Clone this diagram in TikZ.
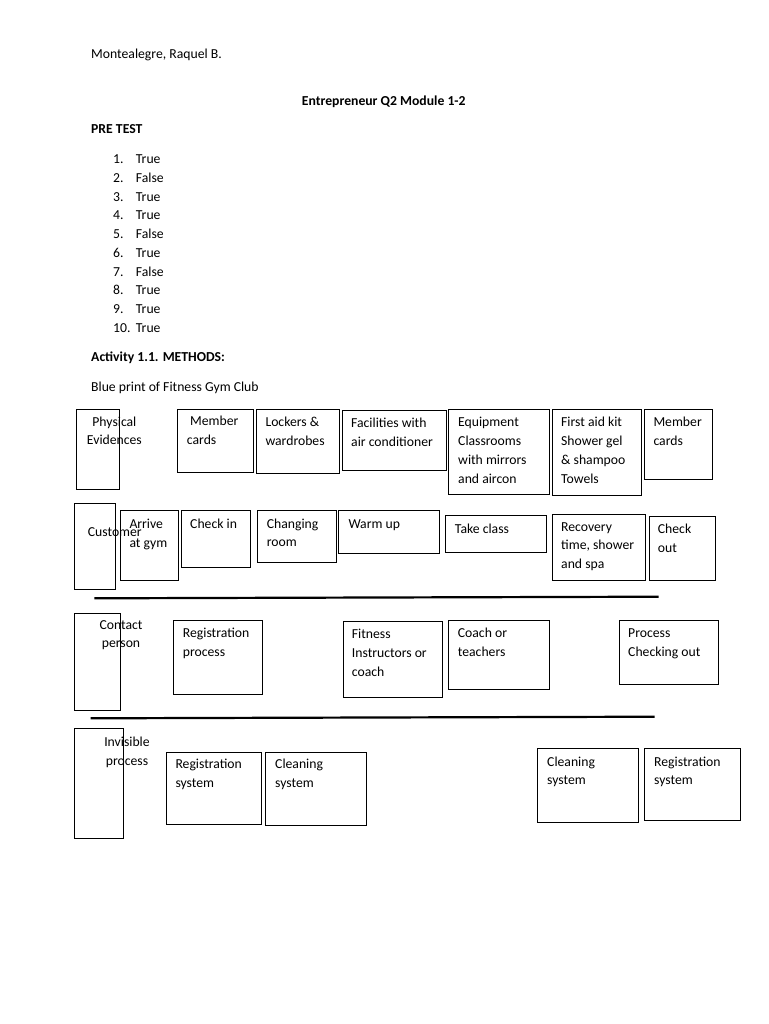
\documentclass[tikz,border=0pt]{standalone}
\usepackage{fontspec}
\setmainfont{Carlito}
\usepackage{tikz}

% box from its four edges: name, left, top, right, bottom
\newcommand{\blk}[5]{\node[box, minimum width={(#4-#2)*1pt}, minimum height={(#5-#3)*1pt}] (#1) at (#2,#3) {};}

\begin{document}
\begin{tikzpicture}[x=1pt,y=-1pt]
        \tikzset{box/.style = {draw, line width=0.9pt, anchor=north west, inner sep=0pt}}
        \tikzset{txt/.style = {anchor=base west, inner sep=0pt, align=left, font=\fontsize{13.7}{18.8}\selectfont}}
        \tikzset{lbl/.style = {anchor=base, inner sep=0pt, align=center, font=\fontsize{13.7}{18.8}\selectfont}}
        \tikzset{hd/.style = {txt, font=\fontsize{13.7}{18.8}\selectfont\bfseries}}
        \tikzset{ln2/.style = {yshift=-18.8pt}}
        \tikzset{ln3/.style = {yshift=-37.6pt}}
        \tikzset{ln4/.style = {yshift=-56.4pt}}
        \tikzset{rule/.style = {line width=2.2pt}}
        \useasboundingbox (0,0) rectangle (768,1024);

        % header
        \node[txt] (name) at (91,58.3) {Montealegre, Raquel B.};
        \node[hd] (title) at (301.7,105.7) {Entrepreneur Q2 Module 1-2};
        \node[hd] (pre) at (91,134) {PRE TEST};
        \foreach \n/\a in {1/True,2/False,3/True,4/True,5/False,6/True,7/False,8/True,9/True,10/True}{
          \node[txt] (num\n) at (113,{163.7+18.74*(\n-1)}) {\n.};
          \node[txt] (ans\n) at (135.7,{163.7+18.74*(\n-1)}) {\a};
        }
        \node[hd] (act) at (91,361.7) {Activity 1.1. METHODS:};
        \node[txt] (blue) at (91,391) {Blue print of Fitness Gym Club};

        % physical evidences
        \blk{pe}{75.5}{409}{119}{489}
        \blk{mem}{177}{409}{252.7}{471.7}
        \blk{lock}{256.3}{409}{338.7}{473}
        \blk{fac}{341.7}{410}{445.7}{470}
        \blk{equ}{448.3}{409}{548.7}{493.7}
        \blk{aid}{551.7}{409}{640.7}{495}
        \blk{memb}{643.7}{409}{712.3}{479.3}
        \node[lbl, ln2] (peT) at (114.4,426) {Physical\\Evidences};
        \node[txt, ln2] (memT) at (186.7,425.7) {\hspace*{3.3pt}Member\\cards};
        \node[txt, ln2] (lockT) at (265.3,426.7) {Lockers \&\\wardrobes};
        \node[txt, ln2] (facT) at (351,427.7) {Facilities with\\air conditioner};
        \node[txt, ln4] (equT) at (458,426.7) {Equipment\\Classrooms\\with mirrors\\and aircon};
        \node[txt, ln4] (aidT) at (561,426.7) {First aid kit\\Shower gel\\\& shampoo\\Towels};
        \node[txt, ln2] (membT) at (653.3,426.7) {Member\\cards};

        % customer
        \blk{cu}{73.7}{503}{115}{589}
        \blk{arr}{119.7}{510.3}{178.3}{580.3}
        \blk{chi}{181}{510.3}{249.7}{567.3}
        \blk{chg}{257.3}{510.3}{335.7}{562.3}
        \blk{warm}{338.3}{510}{439.3}{552.7}
        \blk{take}{445}{515.3}{545.7}{551.7}
        \blk{rec}{551.7}{513.7}{645}{580.3}
        \blk{cho}{648.7}{516.3}{715.3}{580.3}
        \node[lbl] (cuT) at (114.8,536.7) {Customer};
        \node[txt, ln2] (arrT) at (129.3,528.3) {Arrive\\at gym};
        \node[txt] (chiT) at (190,528) {Check in};
        \node[txt, ln2] (chgT) at (266.7,528) {Changing\\room};
        \node[txt] (warmT) at (348.3,528) {Warm up};
        \node[txt] (takeT) at (454.7,533.3) {Take class};
        \node[txt, ln3] (recT) at (561,531) {Recovery\\time, shower\\and spa};
        \node[txt, ln2] (choT) at (657.7,533.3) {Check\\out};

        % line of interaction
        \coordinate (la) at (94.3,598.3);
        \coordinate (lb) at (658.7,596.7);
        \draw[rule] (la) -- (lb);

        % contact person
        \blk{cp}{73.7}{612.7}{120}{710}
        \blk{reg}{173.3}{620}{262.3}{694.3}
        \blk{fit}{342.7}{621.3}{442.3}{696.7}
        \blk{coa}{448.3}{620}{548.7}{689.3}
        \blk{pro}{618.7}{620}{718.3}{684.3}
        \node[lbl, ln2] (cpT) at (121,629) {Contact\\person};
        \node[txt, ln2] (regT) at (182.7,637.3) {Registration\\process};
        \node[txt, ln3] (fitT) at (351.7,638.7) {Fitness\\Instructors or\\coach};
        \node[txt, ln2] (coaT) at (457.7,637.3) {Coach or\\teachers};
        \node[txt, ln2] (proT) at (628,637.3) {Process\\Checking out};

        % line of visibility
        \coordinate (va) at (90.7,718.3);
        \coordinate (vb) at (654.7,716.7);
        \draw[rule] (va) -- (vb);

        % invisible process
        \blk{ip}{73.7}{728.3}{123.3}{838.3}
        \blk{rsys}{166}{751.7}{260.7}{824}
        \blk{csys}{265.3}{751.7}{366}{825}
        \blk{csysb}{537.3}{748}{638.3}{821.7}
        \blk{rsysb}{643.7}{748}{739.7}{820.3}
        \node[lbl, ln2] (ipT) at (127,746.7) {Invisible\\process};
        \node[txt, ln2] (rsysT) at (175.3,768.7) {Registration\\system};
        \node[txt, ln2] (csysT) at (275,768.7) {Cleaning\\system};
        \node[txt, ln2] (csysbT) at (547,766) {Cleaning\\system};
        \node[txt, ln2] (rsysbT) at (654,766) {Registration\\system};
\end{tikzpicture}
\end{document}
